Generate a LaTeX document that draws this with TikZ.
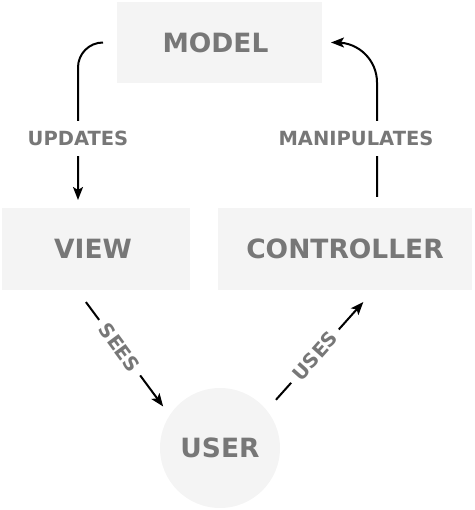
\documentclass[tikz,border=0pt]{standalone}
\usepackage{fontspec}
\setmainfont{DejaVu Sans}
\usepackage{tikz}
\usetikzlibrary{calc,arrows.meta}
\usepackage{xcolor}
\definecolor{gristexte}{HTML}{777777}
\definecolor{grisfond}{HTML}{F4F4F4}

\begin{document}
\begin{tikzpicture}[x=1pt,y=-1pt]

		\useasboundingbox (0,0) rectangle (474,510);
		\tikzset{boite/.style={fill=grisfond, rectangle, minimum height=82pt, outer sep=0pt},
			rond/.style={fill=grisfond, circle, minimum size=120pt, inner sep=0pt, outer sep=0pt},
			titre/.style={text=gristexte, font=\fontsize{26.5}{30}\selectfont\bfseries},
			fleche/.style={line width=2pt, -{Stealth[length=13pt,width=10pt,inset=3pt]}},
			etiq/.style={fill=white, text=gristexte, font=\fontsize{19.5}{22}\selectfont\bfseries, inner xsep=3pt, inner ysep=10pt},
			etiqp/.style={etiq, sloped, inner xsep=7pt, inner ysep=2pt}}
		\node[boite, minimum width=205pt, minimum height=81pt] (M) at (219.5,42.5) {};
		\node[boite, minimum width=188pt] (V) at (96,249) {};
		\node[boite, minimum width=254pt] (C) at (345,249) {};
		\node[rond] (U) at (220,448) {};

    \draw[fleche, rounded corners=25pt, shorten <=14pt, shorten >=8pt] (M.west) -| node[etiq, pos=0.79] {UPDATES} ([xshift=-18pt]V.north);
    \draw[fleche, rounded corners=40pt, shorten <=11pt, shorten >=9pt] ([xshift=32pt]C.north) |- node[etiq, pos=0.21, xshift=-21pt] {MANIPULATES} (M.east);
    \draw[fleche, shorten <=15pt, shorten >=11pt] ([xshift=-19pt]V.south) -- node[etiqp, pos=0.46] {SEES} (U.147);
    \draw[fleche, shorten <=14pt, shorten >=16pt] (U.39) -- node[etiqp, pos=0.45] {USES} ([xshift=29pt]C.south);

    \draw ([xshift=-4pt]M) node[titre] {MODEL};
    \draw ([xshift=-3pt]V) node[titre] {VIEW};
    \draw (C) node[titre] {CONTROLLER};
    \draw (U) node[titre] {USER};

		\end{tikzpicture}
\end{document}
